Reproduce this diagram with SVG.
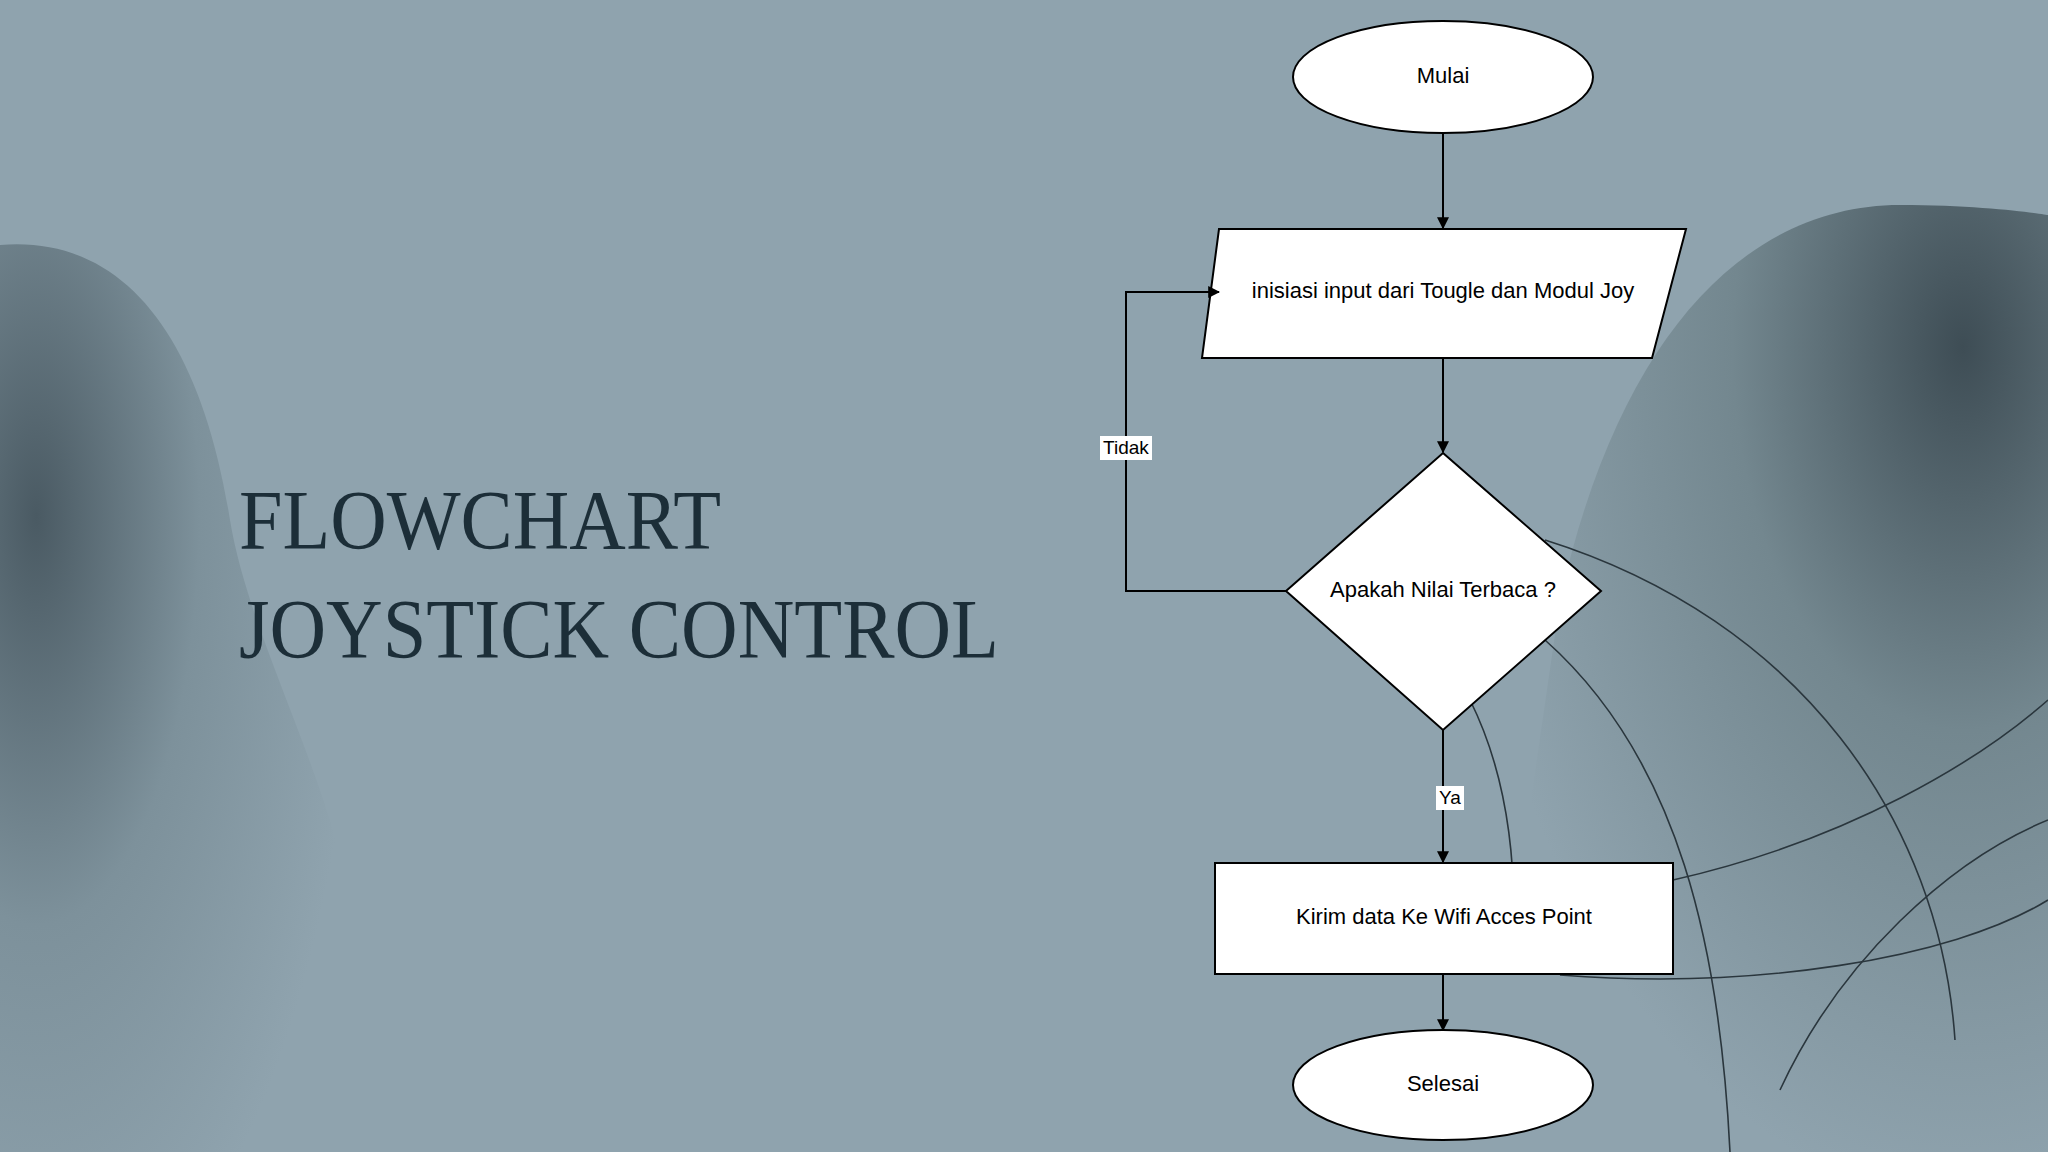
<svg xmlns="http://www.w3.org/2000/svg" width="2048" height="1152" viewBox="0 0 2048 1152">
<defs>
<radialGradient id="gl" cx="0.1" cy="0.3" r="0.9"><stop offset="0" stop-color="#4a5a63"/><stop offset="0.5" stop-color="#7d919b"/><stop offset="1" stop-color="#8fa3ae"/></radialGradient>
<radialGradient id="gr" cx="0.85" cy="0.15" r="0.9"><stop offset="0" stop-color="#3e4d55"/><stop offset="0.45" stop-color="#73878f"/><stop offset="1" stop-color="#8fa3ae"/></radialGradient>
<marker id="ah" viewBox="0 0 10 10" refX="9" refY="5" markerWidth="12" markerHeight="12" markerUnits="userSpaceOnUse" orient="auto"><path d="M0,0 L10,5 L0,10 z" fill="#000"/></marker>
</defs>
<style>
.n{fill:#fff;stroke:#000;stroke-width:2}
.t{font-family:"Liberation Sans",Arial,sans-serif;font-size:22px;fill:#000;text-anchor:middle;dominant-baseline:middle}
.c{fill:none;stroke:#000;stroke-width:2;marker-end:url(#ah)}
.deco{fill:none;stroke:#2a363d;stroke-width:1.6}
.ti{font-family:"Liberation Serif",serif;font-size:84px;fill:#1c2e38}
</style>
<rect width="2048" height="1152" fill="#8fa3ae"/>
<path d="M0,245 C120,235 200,330 230,520 C260,700 420,900 340,1152 L0,1152 Z" fill="url(#gl)"/>
<path d="M1480,1152 L1560,600 C1620,330 1750,205 1900,205 C1990,205 2048,215 2048,215 L2048,1152 Z" fill="url(#gr)"/>
<g class="deco">
<path d="M1545,540 C1800,620 1940,820 1955,1040"/>
<path d="M1545,640 C1680,760 1720,950 1730,1152"/>
<path d="M1470,700 C1510,780 1520,880 1510,975"/>
<path d="M1673,880 C1850,840 1980,760 2048,700"/>
<path d="M1560,975 C1750,990 1950,960 2048,900"/>
<path d="M1780,1090 C1840,960 1950,860 2048,820"/>
</g>
<text class="ti" x="239" y="549" textLength="482" lengthAdjust="spacingAndGlyphs">FLOWCHART</text>
<text class="ti" x="239" y="658" textLength="760" lengthAdjust="spacingAndGlyphs">JOYSTICK CONTROL</text>
<g id="mulai"><ellipse class="n" cx="1443" cy="77" rx="150" ry="56"/><text class="t" x="1443" y="77">Mulai</text></g>
<g id="input"><polygon class="n" points="1219,229 1686,229 1652,358 1202,358"/><text class="t" x="1443" y="292">inisiasi input dari Tougle dan Modul Joy</text></g>
<g id="decision"><polygon class="n" points="1443,453 1601,591 1443,730 1286,591"/><text class="t" x="1443" y="591">Apakah Nilai Terbaca ?</text></g>
<g id="kirim"><rect class="n" x="1215" y="863" width="458" height="111"/><text class="t" x="1444" y="918">Kirim data Ke Wifi Acces Point</text></g>
<g id="selesai"><ellipse class="n" cx="1443" cy="1085" rx="150" ry="55"/><text class="t" x="1443" y="1085">Selesai</text></g>
<g id="connectors">
<line class="c" x1="1443" y1="133" x2="1443" y2="228"/>
<line class="c" x1="1443" y1="358" x2="1443" y2="452"/>
<polyline class="c" points="1286,591 1126,591 1126,292 1219,292"/>
<line class="c" x1="1443" y1="730" x2="1443" y2="862"/>
<line class="c" x1="1443" y1="974" x2="1443" y2="1030"/>
<rect x="1100" y="436" width="52" height="24" fill="#fff"/>
<text class="t" x="1126" y="449" style="font-size:19px">Tidak</text>
<rect x="1436" y="786" width="28" height="24" fill="#fff"/>
<text class="t" x="1450" y="799" style="font-size:19px">Ya</text>
</g>
</svg>
